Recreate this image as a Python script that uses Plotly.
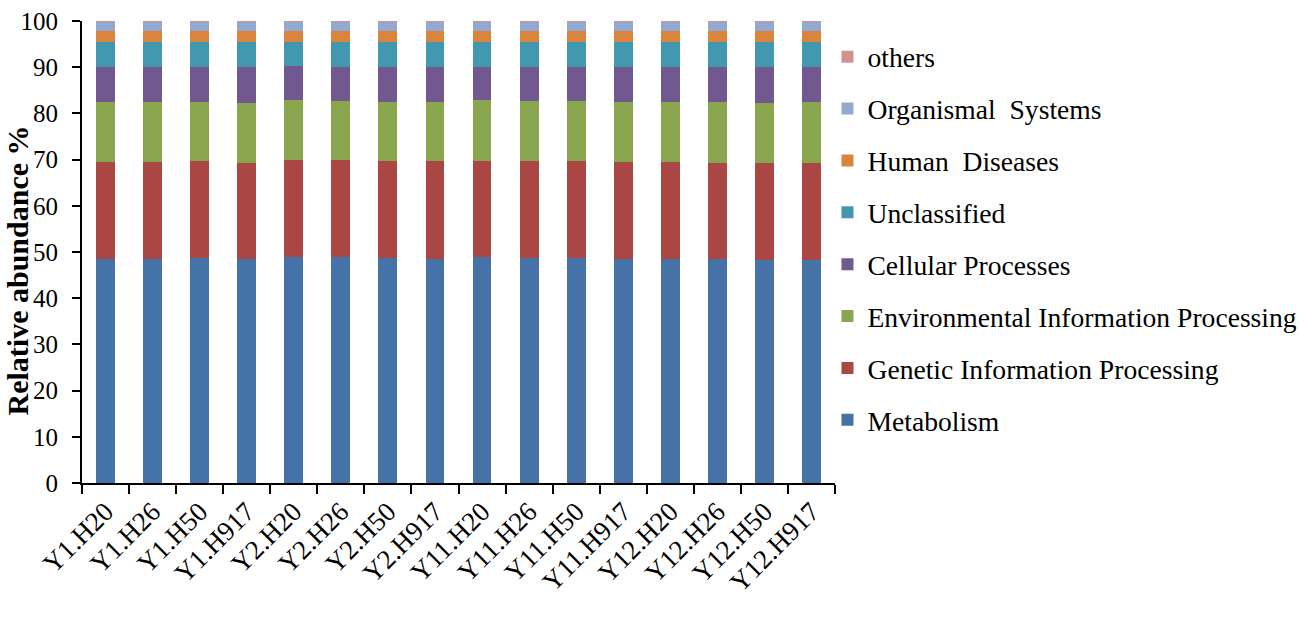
import plotly.graph_objects as go

samples = ["Y1.H20", "Y1.H26", "Y1.H50", "Y1.H917", "Y2.H20", "Y2.H26", "Y2.H50", "Y2.H917",
           "Y11.H20", "Y11.H26", "Y11.H50", "Y11.H917", "Y12.H20", "Y12.H26", "Y12.H50", "Y12.H917"]

metabolism = [48.5, 48.5, 48.6, 48.4, 48.9, 48.85, 48.7, 48.5, 48.9, 48.8, 48.6, 48.4, 48.5, 48.4, 48.35, 48.3]
genetic = [20.9, 21.0, 21.0, 20.9, 21.1, 21.05, 21.1, 21.2, 20.9, 21.0, 21.1, 21.0, 21.0, 20.9, 20.85, 20.9]
environmental = [13.0, 12.9, 12.8, 13.0, 12.8, 12.7, 12.7, 12.8, 13.0, 12.9, 12.9, 13.1, 13.0, 13.1, 13.1, 13.2]
cellular = [7.7, 7.7, 7.7, 7.75, 7.4, 7.5, 7.6, 7.6, 7.3, 7.4, 7.5, 7.6, 7.6, 7.7, 7.8, 7.7]
unclassified = [5.3, 5.3, 5.3, 5.3, 5.2, 5.3, 5.3, 5.3, 5.3, 5.3, 5.3, 5.3, 5.3, 5.3, 5.3, 5.3]
human = [2.5, 2.5, 2.5, 2.5, 2.5, 2.5, 2.5, 2.5, 2.5, 2.5, 2.5, 2.5, 2.5, 2.5, 2.5, 2.5]
organismal = [1.95, 1.95, 1.95, 1.95, 1.95, 1.95, 1.95, 1.95, 1.95, 1.95, 1.95, 1.95, 1.95, 1.95, 1.95, 1.95]
others = [0.15, 0.15, 0.15, 0.15, 0.15, 0.15, 0.15, 0.15, 0.15, 0.15, 0.15, 0.15, 0.15, 0.15, 0.15, 0.15]

series = [
    ("Metabolism", metabolism, "#4572A7"),
    ("Genetic Information Processing", genetic, "#AA4643"),
    ("Environmental Information Processing", environmental, "#89A54E"),
    ("Cellular Processes", cellular, "#71588F"),
    ("Unclassified", unclassified, "#4198AF"),
    ("Human  Diseases", human, "#DB843D"),
    ("Organismal  Systems", organismal, "#93A9CF"),
    ("others", others, "#D19392"),
]

y_title = "Relative abundance %"

FONT = "Liberation Serif, Times New Roman, serif"

fig = go.Figure()
for i, (name, vals, color) in enumerate(series):
    fig.add_trace(go.Bar(
        x=samples, y=vals, name=name, marker_color=color,
        marker_line_width=0, legendgroup=f"g{i}", legendrank=100 - i,
    ))

fig.add_annotation(
    text=f"<b>{y_title}</b>", xref="paper", yref="paper",
    x=-0.0856, y=0.459, xanchor="center", yanchor="middle",
    textangle=-90, showarrow=False,
    font=dict(family=FONT, size=30, color="black"),
)

fig.update_layout(
    barmode="stack",
    bargap=0.6,
    width=1299, height=618,
    margin=dict(l=82, r=464, t=20.7, b=134.7, autoexpand=False),
    paper_bgcolor="white", plot_bgcolor="white",
    font=dict(family=FONT, size=25, color="black"),
    legend=dict(
        x=0.990, y=0.9756, xanchor="left", yanchor="top",
        traceorder="grouped", tracegroupgap=13,
        font=dict(family=FONT, size=27.6, color="black"),
        itemwidth=30,
    ),
    xaxis=dict(
        type="category", tickson="boundaries", ticks="outside", ticklen=9,
        tickwidth=2, tickcolor="black", showline=True, linecolor="black",
        linewidth=2, tickangle=-45, showgrid=False, automargin=False,
        ticklabeloverflow="allow",
        tickfont=dict(family=FONT, size=27, color="black"),
    ),
    yaxis=dict(
        range=[0, 100], dtick=10, ticks="outside", ticklen=8, tickwidth=2,
        tickcolor="black", showline=True, linecolor="black", linewidth=2,
        showgrid=False, zeroline=False, automargin=False,
        ticklabelstandoff=9, ticklabeloverflow="allow",
        tickfont=dict(family=FONT, size=25, color="black"),
    ),
)

fig.write_html("out.html", config={"displayModeBar": False},
               post_script="document.body.style.margin='0';")
